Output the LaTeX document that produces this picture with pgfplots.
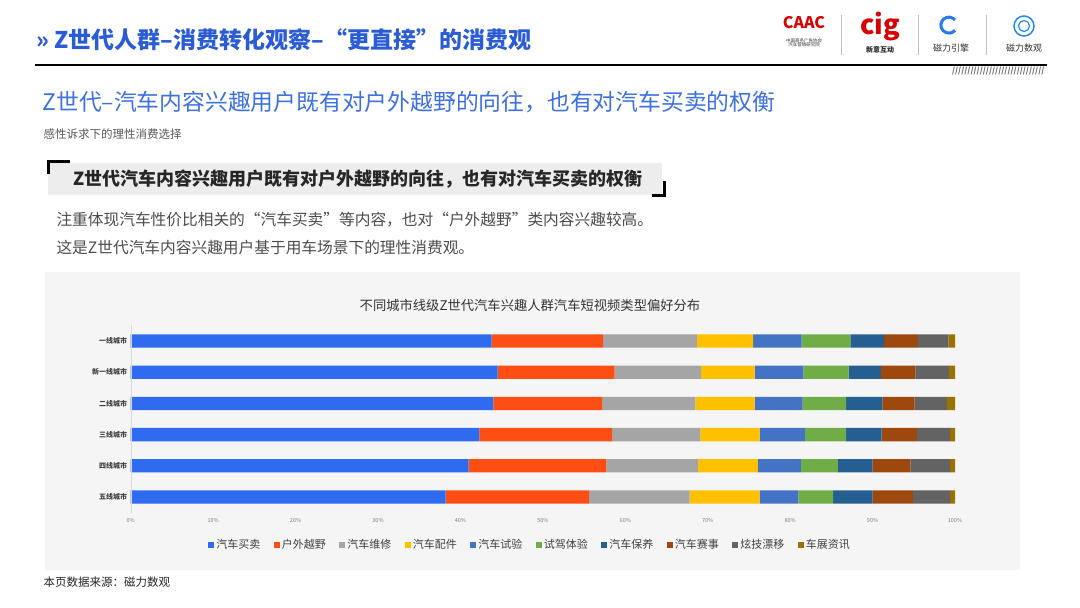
\documentclass[border=0pt]{standalone}
\usepackage{fontspec}
\setmainfont{Noto Sans CJK SC}
\usepackage{pgfplots}
\pgfplotsset{compat=1.18}
\definecolor{hblue}{HTML}{2A5CD6}
\definecolor{sblue}{HTML}{3D70E0}
\definecolor{c1}{HTML}{2E6BEF}
\definecolor{c2}{HTML}{FF4E14}
\definecolor{c3}{HTML}{A5A5A5}
\definecolor{c4}{HTML}{FFC000}
\definecolor{c5}{HTML}{4472C4}
\definecolor{c6}{HTML}{70AD47}
\definecolor{c7}{HTML}{255E91}
\definecolor{c8}{HTML}{9E480E}
\definecolor{c9}{HTML}{636363}
\definecolor{c10}{HTML}{997300}
\newcommand{\fs}[1]{\fontsize{#1}{#1}\selectfont}
\pgfplotstableread{
y s1 s2 s3 s4 s5 s6 s7 s8 s9 s10
0 43.8 13.5 11.4 6.8 5.9 5.9 4.1 4.1 3.7 0.8
1 44.5 14.2 10.5 6.5 5.9 5.5 3.9 4.2 4.1 0.7
2 44.0 13.2 11.3 7.2 5.8 5.3 4.4 3.9 3.9 1.0
3 42.3 16.1 10.7 7.2 5.5 5.0 4.3 4.3 4.0 0.6
4 41.0 16.7 11.1 7.3 5.2 4.5 4.2 4.6 4.8 0.6
5 38.2 17.4 12.2 8.5 4.7 4.2 4.8 4.9 4.5 0.6
}\datatable
\begin{document}
\begin{tikzpicture}[x=1pt,y=1pt]
\fill[white] (0,0) rectangle (1080,-608);
% header
\node[anchor=west,text=hblue,font=\bfseries\fs{23}] at (33,-40) {» Z世代人群–消费转化观察–“更直接”的消费观};
\draw[black,line width=1.5pt] (35,-65) -- (1047,-65);
\node[anchor=east,text=black!60,font=\bfseries\itshape\fs{8}] at (1048,-71) {//////////////////////////////};
% logos
\node[text=red!85!black,font=\bfseries\itshape\fs{16}] at (804,-23) {CAAC};
\node[text=black!80,font=\fs{4.5},align=center,inner sep=0pt] at (804,-43) {中国商务广告协会\\汽车营销研究院};
\draw[black!25] (841,-15) -- (841,-55);
\node[text=red!85!black,font=\bfseries\fs{27}] at (880,-27) {cig};
\node[text=black!85,font=\bfseries\fs{7}] at (880,-50) {新意互动};
\draw[black!25] (918,-15) -- (918,-55);
\draw[c1!90!cyan,line width=3pt] (955,-20) arc (40:320:8);
\node[text=black!80,font=\fs{9}] at (951,-48) {磁力引擎};
\draw[black!25] (986,-15) -- (986,-55);
\draw[c1!80!cyan,line width=1.5pt] (1024,-26) circle (10);
\draw[c1!80!cyan,line width=1.2pt] (1024,-26) circle (5.5);
\node[text=black!80,font=\fs{9}] at (1024,-48) {磁力数观};
% subtitle
\node[anchor=west,text=sblue,font=\fs{22.8}] at (39,-102) {Z世代–汽车内容兴趣用户既有对户外越野的向往，也有对汽车买卖的权衡};
\node[anchor=west,text=black!65,font=\fs{11.5}] at (40,-134) {感性诉求下的理性消费选择};
% grey box
\fill[black!7] (48,-163) rectangle (662,-195);
\draw[black,line width=3pt] (48,-174) -- (48,-161.5) -- (70,-161.5);
\draw[black,line width=3pt] (652,-195.5) -- (664.5,-195.5) -- (664.5,-181);
\node[anchor=west,text=black!85,font=\bfseries\fs{18}] at (70,-179) {Z世代汽车内容兴趣用户既有对户外越野的向往，也有对汽车买卖的权衡};
\node[anchor=west,text=black!70,font=\fs{15.7}] at (53,-220) {注重体现汽车性价比相关的“汽车买卖”等内容，也对“户外越野”类内容兴趣较高。};
\node[anchor=west,text=black!70,font=\fs{15.7}] at (53,-248) {这是Z世代汽车内容兴趣用户基于用车场景下的理性消费观。};
% chart panel
\fill[black!4] (45,-272) rectangle (1020,-570);
\node[text=black!80,font=\fs{13.3}] at (530,-305) {不同城市线级Z世代汽车兴趣人群汽车短视频类型偏好分布};
\node[anchor=west,text=black!85,font=\fs{11.5}] at (40,-582) {本页数据来源：磁力数观};
\begin{axis}[
  at={(130.7pt,-512.6pt)}, anchor=south west,
  scale only axis, width=824.3pt, height=187.2pt,
  xbar stacked, bar width=13.3pt,
  xmin=0, xmax=100, ymin=-0.5, ymax=5.5, y dir=reverse,
  axis line style={draw=none},
  ytick={0,1,2,3,4,5},
  yticklabels={一线城市,新一线城市,二线城市,三线城市,四线城市,五线城市},
  yticklabel style={font=\bfseries\fs{7},text=black!75},
  xtick={0,10,...,100},
  xticklabels={0\%,10\%,20\%,30\%,40\%,50\%,60\%,70\%,80\%,90\%,100\%},
  xticklabel style={font=\fs{5.5},text=black!50},
  tick style={draw=none},
  xticklabel shift=2pt, yticklabel shift=0pt,
  legend columns=10,
  legend style={draw=none,fill=none,at={(0.4845,-0.173)},anchor=center,font=\fs{11},text=black!75,
    /tikz/every even column/.append style={column sep=11.5pt}},
  legend image code/.code={\fill[#1] (0pt,-3pt) rectangle (6pt,3pt);},
]
\draw[black!15] (axis cs:0,-0.5) -- (axis cs:0,5.5);
\addplot[fill=c1,draw=none] table[x=s1,y=y]{\datatable};
\addplot[fill=c2,draw=none] table[x=s2,y=y]{\datatable};
\addplot[fill=c3,draw=none] table[x=s3,y=y]{\datatable};
\addplot[fill=c4,draw=none] table[x=s4,y=y]{\datatable};
\addplot[fill=c5,draw=none] table[x=s5,y=y]{\datatable};
\addplot[fill=c6,draw=none] table[x=s6,y=y]{\datatable};
\addplot[fill=c7,draw=none] table[x=s7,y=y]{\datatable};
\addplot[fill=c8,draw=none] table[x=s8,y=y]{\datatable};
\addplot[fill=c9,draw=none] table[x=s9,y=y]{\datatable};
\addplot[fill=c10,draw=none] table[x=s10,y=y]{\datatable};
\legend{汽车买卖,户外越野,汽车维修,汽车配件,汽车试验,试驾体验,汽车保养,汽车赛事,炫技漂移,车展资讯}
\end{axis}
\end{tikzpicture}
\end{document}
